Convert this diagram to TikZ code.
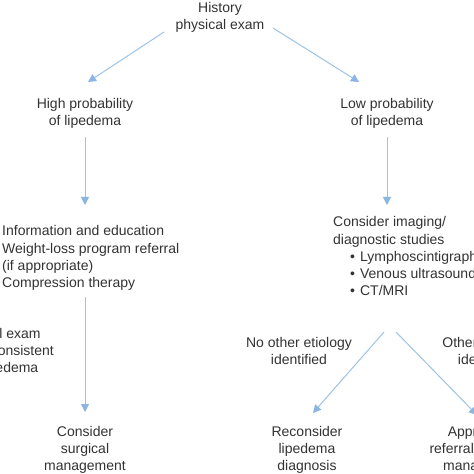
\documentclass[tikz,border=0pt]{standalone}
\usepackage{fontspec}
\setmainfont{Liberation Sans}
\usetikzlibrary{arrows.meta}
\definecolor{txtc}{HTML}{333333}
\definecolor{arrc}{HTML}{9DC3E6}
\definecolor{tipc}{HTML}{8BB5E2}
\begin{document}
\begin{tikzpicture}[x=1bp,y=-1bp,
  lbl/.style={inner sep=0pt, text=txtc, font=\fontsize{14bp}{17bp}\selectfont, align=center, anchor=base},
  lblL/.style={lbl, align=left, anchor=base west},
  conn/.style={draw=arrc, line width=1bp, -{Triangle[length=8bp,width=8bp,color=tipc]}}]
\useasboundingbox (0,0) rectangle (474,474);
\fill[white] (0,0) rectangle (474,474);
\clip (0,0) rectangle (474,474);

% nodes (anchor = baseline of the last line)
\node[lbl] (hist) at (220,30) {History\\physical exam};
\node[lbl] (high) at (85,126) {High probability\\of lipedema};
\node[lbl] (low) at (387,126) {Low probability\\of lipedema};
\node[lblL] (cons) at (2,287) {Information and education\\Weight-loss program referral\\(if appropriate)\\Compression therapy};
\node[lblL] (img) at (333,295) {Consider imaging/\\diagnostic studies\\\hspace*{17bp}\textbullet\hspace{5bp}Lymphoscintigraphy\\\hspace*{17bp}\textbullet\hspace{5bp}Venous ultrasound\\\hspace*{17bp}\textbullet\hspace{5bp}CT/MRI};
\node[lbl] (pe) at (-4.5,372) {Physical exam\\remains consistent\\with lipedema};
\node[lbl] (surg) at (85,470) {Consider\\surgical\\management};
\node[lbl] (noeti) at (299,364) {No other etiology\\identified};
\node[lbl] (oeti) at (486,364) {Other etiology\\identified};
\node[lbl] (recon) at (307,470) {Reconsider\\lipedema\\diagnosis};
\node[lbl] (appr) at (484,470) {Appropriate\\referral for further\\management};

% connector ends
\coordinate (histL) at (164,32);
\coordinate (histR) at (273,28);
\coordinate (highT) at (88,82);
\coordinate (lowT) at (359,82);
\coordinate (highB) at (85,137);
\coordinate (consT) at (85,205);
\coordinate (lowB) at (387,137);
\coordinate (imgT) at (387,205);
\coordinate (consB) at (85,297);
\coordinate (surgT) at (85,412);
\coordinate (imgBL) at (384,332);
\coordinate (reconT) at (313,413);
\coordinate (imgBR) at (396,332);
\coordinate (apprT) at (477,415);

\draw[conn] (histL) -- (highT);
\draw[conn] (histR) -- (lowT);
\draw[conn] (highB) -- (consT);
\draw[conn] (lowB) -- (imgT);
\draw[conn] (consB) -- (surgT);
\draw[conn] (imgBL) -- (reconT);
\draw[conn] (imgBR) -- (apprT);
\end{tikzpicture}
\end{document}
